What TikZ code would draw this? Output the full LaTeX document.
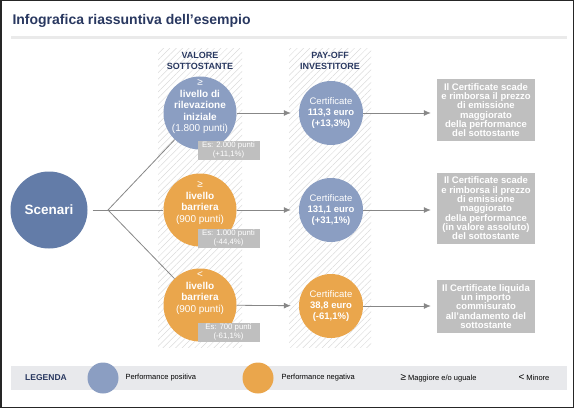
\documentclass[tikz,border=0pt]{standalone}
\usepackage{fontspec}
\setmainfont{Liberation Sans}
\usetikzlibrary{positioning,arrows.meta,patterns.meta}
\definecolor{navy}{RGB}{41,56,96}
\definecolor{bluec}{RGB}{139,158,194}
\definecolor{scenblue}{RGB}{99,124,168}
\definecolor{orangec}{RGB}{234,166,76}
\definecolor{boxgray}{RGB}{191,191,191}
\definecolor{linegray}{RGB}{135,135,135}
\definecolor{rulegray}{RGB}{234,234,234}
\definecolor{bandgray}{RGB}{232,233,236}
\begin{document}
\begin{tikzpicture}[x=1pt,y=-1pt,
  hatch/.style={pattern={Lines[angle=45,distance=4.5pt,line width=0.5pt]}, pattern color=black!14},
  lvpos/.style={circle, fill=bluec, minimum size=73pt, inner sep=0pt},
  lvneg/.style={circle, fill=orangec, minimum size=73pt, inner sep=0pt},
  pay/.style={circle, minimum size=64pt, inner sep=0pt, text=white, align=center, font=\fontsize{9.5}{11.3}\selectfont},
  lvtxt/.style={text=white, align=center, font=\fontsize{10}{11.5}\selectfont},
  ex/.style={fill=boxgray, text=white, align=center, minimum width=62pt, minimum height=19pt, inner sep=1pt, font=\fontsize{7.8}{8.8}\selectfont},
  result/.style={fill=boxgray, text=white, align=center, minimum width=98pt, inner xsep=1pt, inner ysep=4.5pt, font=\bfseries\fontsize{9.5}{9.3}\selectfont},
  head/.style={text=navy, align=center, font=\bfseries\fontsize{9}{11}\selectfont},
  link/.style={draw=linegray, line width=0.8pt},
  arr/.style={link, -{Latex[length=7pt,width=6pt]}},
  leg/.style={anchor=west, font=\fontsize{7.5}{8}\selectfont}]
\useasboundingbox (0,0) rectangle (575,409);
\draw[line width=1.5pt, draw=black!85] (0.75,0.75) rectangle (573.5,407.5);
\node[anchor=west, text=navy, font=\bfseries\fontsize{14}{16}\selectfont] (title) at (9,21) {Infografica riassuntiva dell’esempio};
\fill[rulegray] (11,36) rectangle (567,39);
\fill[hatch] (158,49) rectangle (242,347);
\fill[hatch] (289,49) rectangle (371,347);
\node[head] (hval) at (200,61) {VALORE\\SOTTOSTANTE};
\node[head] (hpay) at (330,61) {PAY-OFF\\INVESTITORE};
\node[circle, fill=scenblue, minimum size=77pt, text=white, font=\bfseries\fontsize{13.5}{16}\selectfont] (scen) at (49,210) {Scenari};
\coordinate (split) at (108,210);
\node[lvpos] (lv1) at (200,113) {};
\node[lvneg] (lv2) at (200,210) {};
\node[lvneg] (lv3) at (200,305) {};
\node[pay, fill=bluec] (po1) at (331,113) {Certificate\\\textbf{113,3 euro}\\\textbf{(+13,3\%)}};
\node[pay, fill=bluec] (po2) at (331,210) {Certificate\\\textbf{131,1 euro}\\\textbf{(+31,1\%)}};
\node[pay, fill=orangec] (po3) at (331,306) {Certificate\\\textbf{38,8 euro}\\\textbf{(-61,1\%)}};
\node[result] (res1) at (486,110) {Il Certificate scade\\e rimborsa il prezzo\\di emissione\\maggiorato\\della performance\\del sottostante};
\node[result] (res2) at (486,208.5) {Il Certificate scade\\e rimborsa il prezzo\\di emissione\\maggiorato\\della performance\\(in valore assoluto)\\del sottostante};
\node[result] (res3) at (486,306.5) {Il Certificate liquida\\un importo\\commisurato\\all'andamento del\\sottostante};
\draw[link, shorten <=5pt] (scen) -- (split);
\draw[link] (split) -- (lv1);
\draw[link] (split) -- (lv2);
\draw[link] (split) -- (lv3);
\draw[arr, shorten >=8pt] (lv1) -- (po1);
\draw[arr, shorten >=8pt] (lv2) -- (po2);
\draw[arr, shorten >=8pt] (lv3) -- (po3);
\draw[arr, shorten >=6pt] (po1.east) -- (po1.east -| res1.west);
\draw[arr, shorten >=6pt] (po2.east) -- (po2.east -| res2.west);
\draw[arr, shorten >=6pt] (po3.east) -- (po3.east -| res3.west);
\node[lvtxt] (lv1txt) at ([yshift=6pt]lv1.center) {≥\\\textbf{livello di}\\\textbf{rilevazione}\\\textbf{iniziale}\\(1.800 punti)};
\node[lvtxt] (lv2txt) at ([yshift=7pt]lv2.center) {≥\\\textbf{livello}\\\textbf{barriera}\\(900 punti)};
\node[lvtxt] (lv3txt) at ([yshift=12pt]lv3.center) {<\\\textbf{livello}\\\textbf{barriera}\\(900 punti)};
\node[ex] (ex1) at (228.5,150) {Es: 2.000 punti\\(+11,1\%)};
\node[ex] (ex2) at (228.5,238) {Es: 1.000 punti\\(-44,4\%)};
\node[ex] (ex3) at (228.5,332) {Es: 700 punti\\(-61,1\%)};
\fill[bandgray] (11,366) rectangle (567,390);
\node[text=navy, font=\bfseries\fontsize{8.5}{10}\selectfont] (legtitle) at (46,378) {LEGENDA};
\node[circle, fill=bluec, minimum size=31pt, inner sep=0pt] (legpos) at (103,378) {};
\node[leg] (legpostxt) at (122,378) {Performance positiva};
\node[circle, fill=orangec, minimum size=31pt, inner sep=0pt] (legneg) at (258,378) {};
\node[leg] (legnegtxt) at (278,378) {Performance negativa};
\node[leg] (legge) at (397,378) {{\fontsize{10}{10}\selectfont ≥} Maggiore e/o uguale};
\node[leg] (leglt) at (515,378) {{\fontsize{10}{10}\selectfont <} Minore};
\end{tikzpicture}
\end{document}
